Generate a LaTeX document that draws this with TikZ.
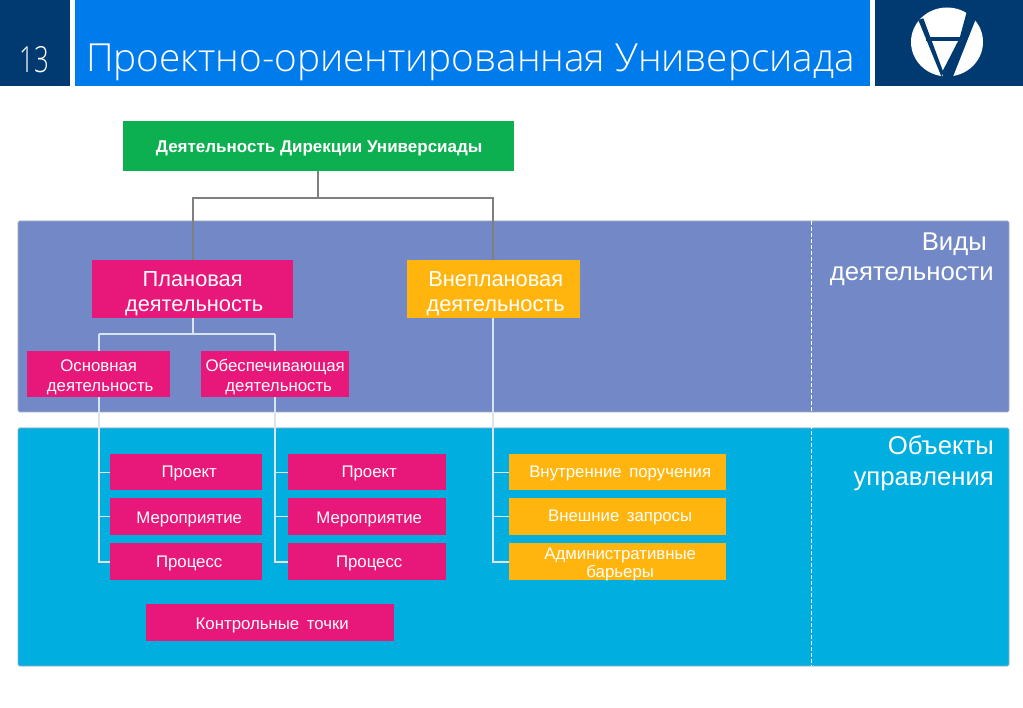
\documentclass[tikz,border=0pt]{standalone}
\usepackage{fontspec}
\setmainfont{Liberation Sans}
\newfontfamily\lightfont{Open Sans Light}
\newfontfamily\widefont[WordSpace=1.6]{Liberation Sans}
\definecolor{navy}{HTML}{003A70}
\definecolor{hblue}{HTML}{007BEC}
\definecolor{dgreen}{HTML}{0DB050}
\definecolor{band}{HTML}{7389C7}
\definecolor{cyanband}{HTML}{00AEE0}
\definecolor{pinkb}{HTML}{E8177A}
\definecolor{orangeb}{HTML}{FFB50E}
\definecolor{lineg}{HTML}{7F7F7F}
\definecolor{linel}{HTML}{D9E4EE}
\definecolor{bandedge}{HTML}{A3ACC4}
\tikzset{
  x=1pt,y=-1pt,
  boxbase/.style={rectangle,inner sep=0pt,text=white,align=center,anchor=north west},
  pinkbox/.style={boxbase,fill=pinkb},
  orangebox/.style={boxbase,fill=orangeb},
  topline/.style={lineg,line width=1.3pt},
  lightline/.style={linel,line width=1.2pt},
  bandbox/.style={rounded corners=1.5pt,draw=bandedge,line width=.6pt},
  small/.style={font=\widefont\fontsize{16.8}{20.5}\selectfont},
  tight/.style={font=\widefont\fontsize{16.8}{18}\selectfont},
  mid/.style={font=\fontsize{21.8}{25}\selectfont},
  side/.style={font=\fontsize{25.7}{30}\selectfont,text=white,anchor=base east,inner sep=0pt}
}
\newcommand{\bx}[7]{\node[#1,minimum width=#5pt,minimum height=#6pt] (#2) at (#3,#4) {#7};}
\newcommand{\dn}[3]{\hspace*{#2pt}\raisebox{-#1pt}[\height][\depth]{#3}}
\begin{document}
\begin{tikzpicture}
\useasboundingbox (0,0) rectangle (1023,708);
\fill[white] (0,0) rectangle (1023,708);
% header
\fill[navy] (0,0) rectangle (70,86);
\fill[hblue] (75,0) rectangle (870,86);
\fill[navy] (875,0) rectangle (1023,86);
\node[text=white,font=\lightfont\fontsize{36}{40}\selectfont,inner sep=0pt,anchor=base] (num) at (34,73) {\scalebox{.72}[1]{13}};
\node[text=white,font=\lightfont\fontsize{38.7}{44}\selectfont,inner sep=0pt,anchor=base west] (title) at (86,72) {Проектно-ориентированная Универсиада};
% logo
\fill[white] (947,42) ellipse [x radius=36,y radius=34.5];
\fill[navy] (918.3,20) -- (923.3,18.3) -- (943.3,72) -- (941.7,77.3) -- cycle;
\fill[navy] (968.3,6) -- (960,36.7) -- (958.3,40.7) -- (942.3,71.7) -- (943.3,77.3) -- (952.7,77.3) -- (976.7,16.7) -- cycle;
\fill[navy] (926,36.7) rectangle (962,40.7);
% bands
\path[bandbox,fill=band] (18,221) rectangle (1009,412);
\path[bandbox,fill=cyanband] (18,428) rectangle (1009,666);
\draw[white,line width=.8pt,dash pattern=on 4pt off 2pt] (811,221) -- (811,666);
% nodes
\bx{boxbase,fill=dgreen,font=\bfseries\fontsize{17}{20}\selectfont}{root}{123}{121}{391}{50}{\dn{2.5}{1}{Деятельность Дирекции Универсиады}}
\bx{pinkbox,mid}{plan}{92}{260}{201}{58}{\dn{4}{0}{Плановая}\\\dn{4}{3}{деятельность}}
\bx{orangebox,mid}{vne}{407}{260}{173}{58}{\dn{4}{4}{Внеплановая}\\\dn{4}{4}{деятельность}}
\bx{pinkbox,small}{osn}{27}{351}{143}{46}{\dn{3}{0}{Основная}\\\dn{3}{3}{деятельность}}
\bx{pinkbox,small}{obe}{201}{351}{148}{46}{\dn{3}{0}{Обеспечивающая}\\\dn{3}{7}{деятельность}}
\bx{pinkbox,small}{p1}{110}{454}{152}{36}{\dn{1.5}{6}{Проект}}
\bx{pinkbox,small}{m1}{110}{498}{152}{37}{\dn{2.5}{6}{Мероприятие}}
\bx{pinkbox,small}{c1}{110}{543}{152}{37}{\dn{2}{6}{Процесс}}
\bx{pinkbox,small}{p2}{288}{454}{158}{36}{\dn{1.5}{4}{Проект}}
\bx{pinkbox,small}{m2}{288}{498}{158}{37}{\dn{2.5}{4}{Мероприятие}}
\bx{pinkbox,small}{c2}{288}{543}{158}{37}{\dn{2}{4}{Процесс}}
\bx{pinkbox,small}{kt}{146}{604}{248}{37}{\dn{3}{4}{Контрольные точки}}
\bx{orangebox,small}{v1}{509}{454}{217}{36}{\dn{1}{5}{Внутренние поручения}}
\bx{orangebox,small}{v2}{509}{498}{217}{37}{\dn{1}{5}{Внешние запросы}}
\bx{orangebox,tight}{v3}{509}{543}{217}{37}{\dn{2.5}{5}{Административные}\\\dn{2.5}{5}{барьеры}}
\node[side] (s1) at (987,251) {Виды};
\node[side] (s2) at (994,281) {деятельности};
\node[side] (s3) at (994,454) {Объекты};
\node[side] (s4) at (994,485) {управления};
% connectors
\coordinate (j0) at (318,198);
\coordinate (jp) at (193,198);
\coordinate (jv) at (493,198);
\coordinate (ja) at (193,334);
\coordinate (jl) at (99,334);
\coordinate (jr) at (275,334);
\coordinate (t1) at (99,562);
\coordinate (t2) at (275,562);
\coordinate (t3) at (493,562);
\draw[lightline] (plan.south -| ja) -- (ja);
\draw[lightline] (jl) -- (jr);
\draw[lightline] (jl) -- (jl |- osn.north);
\draw[lightline] (jr) -- (jr |- obe.north);
\draw[lightline] (t1 |- osn.south) -- (t1) -- (c1.west |- t1);
\draw[lightline] (t2 |- obe.south) -- (t2) -- (c2.west |- t2);
\draw[lightline] (t3 |- vne.south) -- (t3) -- (v3.west |- t3);
\draw[lightline] (t1 |- p1.west) -- (p1.west);
\draw[lightline] (t1 |- m1.west) -- (m1.west);
\draw[lightline] (t2 |- p2.west) -- (p2.west);
\draw[lightline] (t2 |- m2.west) -- (m2.west);
\draw[lightline] (t3 |- v1.west) -- (v1.west);
\draw[lightline] (t3 |- v2.west) -- (v2.west);
\draw[topline] (root.south -| j0) -- (j0);
\draw[topline] (jp |- plan.north) -- (jp) -- (jv) -- (jv |- vne.north);
\end{tikzpicture}
\end{document}
